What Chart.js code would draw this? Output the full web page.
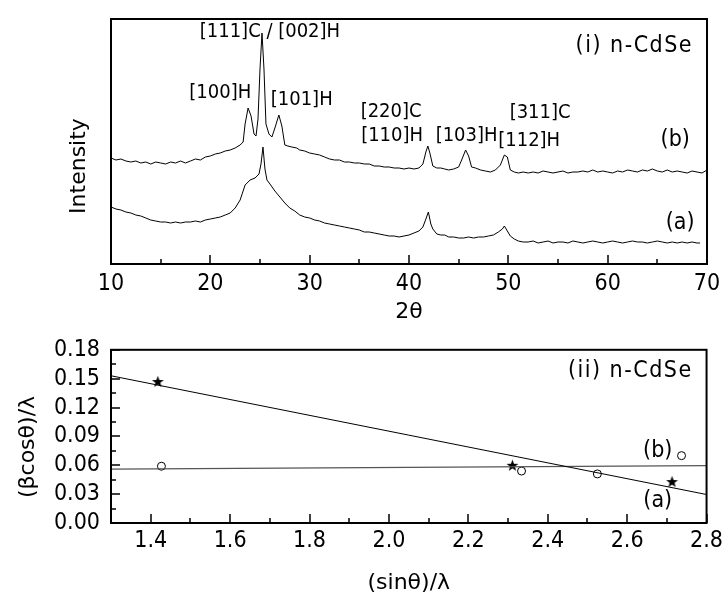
<!DOCTYPE html>
<html><head><meta charset="utf-8">
<script src="https://cdn.jsdelivr.net/npm/chart.js@4.4.1/dist/chart.umd.min.js"></script>
<style>
html,body{margin:0;padding:0;background:#fff;}
#wrap{position:relative;width:727px;height:605px;background:#fff;}
#c1{position:absolute;left:0;top:0;}
#c2{position:absolute;left:0;top:325px;}
</style></head><body>
<div id="wrap">
<canvas id="c1" width="727" height="325"></canvas>
<canvas id="c2" width="727" height="280"></canvas>
</div>
<script>
// ---------- DATA ----------
// (i) XRD patterns: [2theta, intensity (a.u.)]
const patternB = [[10,106],[10.5,104],[11,105],[11.5,103],[12,102],[12.5,103],[13,101],[13.5,102],[14,100],[14.5,102],[15,101],[15.5,100],[16,102],[16.5,101],[17,103],[17.5,101],[18,103],[18.5,105],[19,104],[19.5,107],[20,108],[20.5,110],[21,111],[21.5,113],[22,114],[22.5,116],[23,119],[23.3,122],[23.5,140],[23.8,156],[24.1,148],[24.4,130],[24.6,128],[24.8,145],[25.0,195],[25.2,231],[25.4,195],[25.6,140],[25.9,130],[26.2,127],[26.5,136],[26.9,149],[27.2,138],[27.5,119],[27.8,118],[28.2,117],[28.7,116],[29,114],[29.5,113],[30,111],[30.5,110],[31,109],[31.5,107],[32,105],[32.5,104],[33,104],[33.5,102],[34,102],[34.5,101],[35,101],[35.5,100],[36,100],[36.5,98],[37,98],[37.5,97],[38,97],[38.5,96],[39,96],[39.5,95],[40,96],[40.5,95],[41,96],[41.4,100],[41.7,112],[41.9,118],[42.1,111],[42.4,98],[42.8,96],[43.2,96],[43.6,95],[44,94],[44.5,95],[45,97],[45.3,104],[45.7,114],[46.0,108],[46.3,97],[46.7,96],[47.2,94],[47.7,93],[48.2,92],[48.7,94],[49.2,99],[49.6,109],[49.9,107],[50.2,94],[50.6,92],[51,91],[51.5,92],[52,91],[52.5,92],[53,91],[53.5,93],[54,92],[54.5,91],[55,92],[55.5,93],[56,91],[56.5,92],[57,92],[57.5,93],[58,92],[58.5,94],[59,92],[59.5,93],[60,92],[60.5,91],[61,93],[61.5,92],[62,94],[62.5,93],[63,92],[63.5,94],[64,93],[64.5,95],[65,93],[65.5,92],[66,94],[66.5,92],[67,93],[67.5,92],[68,91],[68.5,93],[69,92],[69.5,91],[70,94]];
const patternA = [[10,57],[10.5,55],[11,54],[11.5,52],[12,51],[12.5,49],[13,48],[13.5,46],[14,44],[14.5,43],[15,42],[15.5,42],[16,41],[16.5,42],[17,41],[17.5,42],[18,42],[18.5,43],[19,42],[19.5,44],[20,45],[20.5,46],[21,47],[21.5,49],[22,51],[22.5,56],[23,64],[23.5,79],[24,84],[24.5,86],[24.9,90],[25.1,100],[25.3,117],[25.5,95],[25.7,84],[26,80],[26.5,73],[27,67],[27.5,61],[28,56],[28.5,53],[29,49],[29.5,47],[30,46],[30.5,44],[31,43],[31.5,41],[32,40],[32.5,39],[33,38],[33.5,37],[34,36],[34.5,35],[35,34],[35.5,32],[36,32],[36.5,31],[37,30],[37.5,29],[38,28],[38.5,28],[39,27],[39.5,28],[40,29],[40.5,31],[41,33],[41.4,37],[41.7,45],[41.95,52],[42.2,40],[42.4,35],[42.8,30],[43.2,29],[43.6,29],[44,27],[44.5,27],[45,26],[45.5,26],[46,27],[46.5,26],[47,27],[47.5,27],[48,28],[48.5,29],[49,32],[49.4,35],[49.6,38],[49.9,33],[50.2,28],[50.6,25],[51,23],[51.5,22],[52,22],[52.5,23],[53,21],[53.5,22],[54,23],[54.5,21],[55,22],[55.5,22],[56,21],[56.5,23],[57,22],[57.5,21],[58,22],[58.5,23],[59,22],[59.5,21],[60,22],[60.5,23],[61,22],[61.5,21],[62,22],[62.5,23],[63,22],[63.5,22],[64,21],[64.5,22],[65,23],[65.5,22],[66,21],[66.5,22],[67,21],[67.5,22],[68,21],[68.5,22],[69,21],[69.3,21]];
const xTicksTop = [10,20,30,40,50,60,70];
const xMinorTop = [15,25,35,45,55,65];
const peakLabels = [
  {text:'[111]C / [002]H', x:26.0, y:232},
  {text:'[100]H', x:21.0, y:171},
  {text:'[101]H', x:29.2, y:164},
  {text:'[220]C', x:38.2, y:152},
  {text:'[110]H', x:38.3, y:128},
  {text:'[103]H', x:45.8, y:128},
  {text:'[311]C', x:53.2, y:151},
  {text:'[112]H', x:52.1, y:123}
];

// (ii) Williamson-Hall plot
const sinThetaA = [1.418, 2.311, 2.713];
const betaCosA  = [0.147, 0.060, 0.043];
const sinThetaB = [1.427, 2.334, 2.525, 2.737];
const betaCosB  = [0.059, 0.054, 0.051, 0.070];
const fitA = [[1.3, 0.153], [2.8, 0.0296]];
const fitB = [[1.3, 0.056], [2.8, 0.0597]];
const xTicksBottom = [1.4,1.6,1.8,2.0,2.2,2.4,2.6,2.8];
const xMinorBottom = [1.5,1.7,1.9,2.1,2.3,2.5,2.7];
const yTicksBottom = [0,0.03,0.06,0.09,0.12,0.15,0.18];
const yMinorBottom = [0.015,0.045,0.075,0.105,0.135,0.165];

// ---------- STYLE ----------
const TICKFAMILY = "'DejaVu Sans Condensed', 'DejaVu Sans', sans-serif";
const TEXTFAMILY = "'DejaVu Sans', sans-serif";

const starImg = document.createElement('canvas');
starImg.width = 13; starImg.height = 13;
(function(){
  const g = starImg.getContext('2d');
  g.fillStyle = '#000';
  g.beginPath();
  for (let i = 0; i < 10; i++) {
    const r = i % 2 === 0 ? 6.2 : 2.6;
    const a = -Math.PI/2 + i*Math.PI/5;
    const px = 6.5 + r*Math.cos(a), py = 7 + r*Math.sin(a);
    if (i === 0) g.moveTo(px, py); else g.lineTo(px, py);
  }
  g.closePath(); g.fill();
})();

const decor = {
  id: 'decor',
  afterDraw(chart, args, o) {
    const {ctx, chartArea: a} = chart;
    const sx = chart.scales.x, sy = chart.scales.y;
    ctx.save();
    ctx.strokeStyle = '#000';
    ctx.lineWidth = o.frameWidth;
    ctx.strokeRect(a.left, a.top, a.right - a.left, a.bottom - a.top);
    ctx.lineWidth = 1.5;
    ctx.beginPath();
    (o.xMajor||[]).forEach(v => { const p = Math.round(sx.getPixelForValue(v)); ctx.moveTo(p, a.bottom); ctx.lineTo(p, a.bottom - 9); });
    (o.xMinor||[]).forEach(v => { const p = Math.round(sx.getPixelForValue(v)); ctx.moveTo(p, a.bottom); ctx.lineTo(p, a.bottom - 5); });
    (o.yMajor||[]).forEach(v => { const p = Math.round(sy.getPixelForValue(v)); ctx.moveTo(a.left, p); ctx.lineTo(a.left + 9, p); });
    (o.yMinor||[]).forEach(v => { const p = Math.round(sy.getPixelForValue(v)); ctx.moveTo(a.left, p); ctx.lineTo(a.left + 5, p); });
    ctx.stroke();
    ctx.fillStyle = '#000';
    ctx.textBaseline = 'middle';
    (o.labels||[]).forEach(l => {
      ctx.font = (l.size || 20) + 'px ' + TICKFAMILY;
      ctx.textAlign = l.align || 'center';
      ctx.letterSpacing = l.spacing || '0px';
      ctx.fillText(l.text, sx.getPixelForValue(l.x), sy.getPixelForValue(l.y));
    });
    ctx.letterSpacing = '0px';
    if (o.yTitle) {
      ctx.font = '22px ' + TEXTFAMILY;
      ctx.textAlign = 'center';
      ctx.translate(o.yTitle.px, o.yTitle.py);
      ctx.rotate(-Math.PI/2);
      ctx.fillText(o.yTitle.text, 0, 0);
    }
    ctx.restore();
  }
};

// ---------- CHART (i) ----------
new Chart(document.getElementById('c1'), {
  type: 'line',
  data: { datasets: [
    { label: '(b)', data: patternB.map(p => ({x: p[0], y: p[1]})), borderColor: '#000', borderWidth: 1, pointRadius: 0, tension: 0, fill: false },
    { label: '(a)', data: patternA.map(p => ({x: p[0], y: p[1]})), borderColor: '#000', borderWidth: 1, pointRadius: 0, tension: 0, fill: false }
  ]},
  options: {
    responsive: false, animation: false, devicePixelRatio: 1,
    layout: { padding: { left: 111, right: 20, top: 19, bottom: 0 } },
    plugins: {
      legend: { display: false }, tooltip: { enabled: false },
      decor: {
        frameWidth: 2, xMajor: xTicksTop, xMinor: xMinorTop,
        labels: peakLabels.map(l => Object.assign({size: 20}, l)).concat([
          {text: '(i) n-CdSe', x: 68.6, y: 218, align: 'right', size: 23, spacing: '1.5px'},
          {text: '(b)', x: 66.8, y: 124, size: 23},
          {text: '(a)', x: 67.3, y: 41, size: 23}
        ]),
        yTitle: {text: 'Intensity', px: 79, py: 166}
      }
    },
    scales: {
      x: {
        type: 'linear', min: 10, max: 70,
        afterBuildTicks: s => { s.ticks = xTicksTop.map(v => ({value: v})); },
        afterFit: s => { s.height = 61; },
        ticks: { font: { family: TICKFAMILY, size: 23 }, color: '#000', padding: 6, maxRotation: 0, autoSkip: false },
        grid: { display: false, drawTicks: false },
        border: { display: false },
        title: { display: true, text: '2θ', color: '#000', font: { family: TEXTFAMILY, size: 22 }, padding: { top: 0, bottom: 0 } }
      },
      y: { type: 'linear', min: 0, max: 245, display: false }
    }
  },
  plugins: [decor]
});

// ---------- CHART (ii) ----------
new Chart(document.getElementById('c2'), {
  type: 'scatter',
  data: { datasets: [
    { label: 'fit (a)', data: fitA.map(p => ({x: p[0], y: p[1]})), showLine: true, borderColor: '#000', borderWidth: 1, pointRadius: 0 },
    { label: 'fit (b)', data: fitB.map(p => ({x: p[0], y: p[1]})), showLine: true, borderColor: '#555', borderWidth: 1.2, pointRadius: 0 },
    { label: '(a)', data: sinThetaA.map((x, i) => ({x, y: betaCosA[i]})), pointStyle: starImg, pointRadius: 6 },
    { label: '(b)', data: sinThetaB.map((x, i) => ({x, y: betaCosB[i]})), pointStyle: 'circle', pointRadius: 4, borderColor: '#000', backgroundColor: 'rgba(0,0,0,0)', borderWidth: 1 }
  ]},
  options: {
    responsive: false, animation: false, devicePixelRatio: 1,
    layout: { padding: { left: 0, right: 20, top: 14, bottom: 0 } },
    plugins: {
      legend: { display: false }, tooltip: { enabled: false },
      decor: {
        frameWidth: 2, xMajor: xTicksBottom, xMinor: xMinorBottom, yMajor: yTicksBottom, yMinor: yMinorBottom,
        labels: [
          {text: '(ii) n-CdSe', x: 2.765, y: 0.1575, align: 'right', size: 23, spacing: '1.5px'},
          {text: '(b)', x: 2.677, y: 0.0743, size: 23},
          {text: '(a)', x: 2.677, y: 0.0225, size: 23}
        ],
        yTitle: {text: '(βcosθ)/λ', px: 28, py: 122}
      }
    },
    scales: {
      x: {
        type: 'linear', min: 1.3, max: 2.8,
        afterBuildTicks: s => { s.ticks = xTicksBottom.map(v => ({value: v})); },
        afterFit: s => { s.height = 82; },
        ticks: { font: { family: TICKFAMILY, size: 23 }, color: '#000', padding: 4, maxRotation: 0, autoSkip: false, callback: v => Number(v).toFixed(1) },
        grid: { display: false, drawTicks: false },
        border: { display: false },
        title: { display: true, text: '(sinθ)/λ', color: '#000', font: { family: TEXTFAMILY, size: 22 }, padding: { top: 0, bottom: 9 } }
      },
      y: {
        type: 'linear', min: 0, max: 0.18,
        afterBuildTicks: s => { s.ticks = yTicksBottom.map(v => ({value: v})); },
        afterFit: s => { s.width = 111; },
        ticks: { font: { family: TICKFAMILY, size: 23 }, color: '#000', padding: 11, autoSkip: false, callback: v => Number(v).toFixed(2) },
        grid: { display: false, drawTicks: false },
        border: { display: false }
      }
    }
  },
  plugins: [decor]
});
</script>
</body></html>
